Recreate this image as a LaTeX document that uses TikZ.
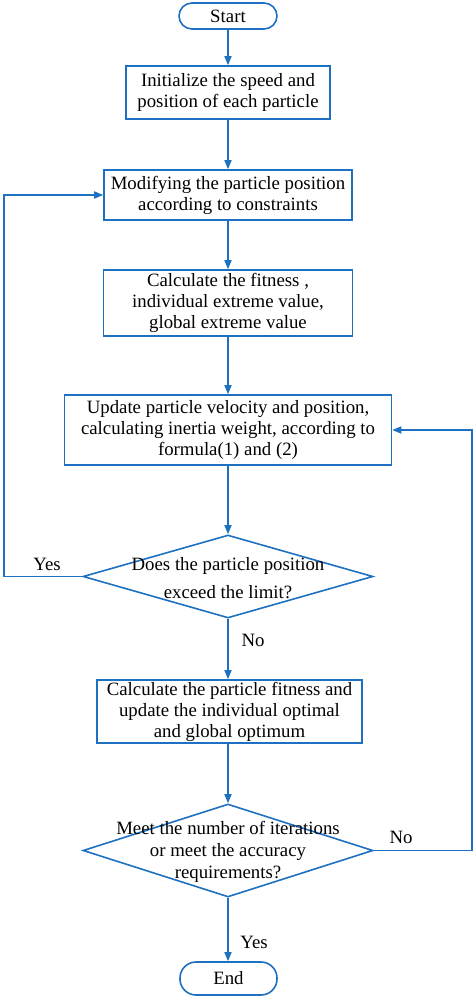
\documentclass[tikz,border=0pt]{standalone}
\usepackage{fontspec}
\setmainfont{Liberation Serif}
\usetikzlibrary{shapes.geometric,arrows.meta}
\definecolor{fc}{RGB}{30,112,192}
\begin{document}
\begin{tikzpicture}[x=1pt,y=-1pt,
  every node/.style={font=\fontsize{18.8}{21}\selectfont},
  box/.style={draw=fc,line width=1.6pt,inner sep=0pt,align=center},
  term/.style={box,rounded corners=13pt},
  dia/.style={draw=fc,line width=1.6pt,diamond,inner sep=0pt},
  dtext/.style={align=center,inner sep=0pt},
  lab/.style={inner sep=0pt},
  arr/.style={draw=fc,line width=1.6pt,-{Triangle[length=9pt,width=7pt]}},
  ln/.style={draw=fc,line width=1.6pt}]
\useasboundingbox (0,0) rectangle (474,998);
\node[term,minimum width=98pt,minimum height=26pt] (start) at (228,16) {Start};
\node[box,minimum width=204pt,minimum height=53pt] (init) at (228,92.5) {Initialize the speed and\\position of each particle};
\node[box,minimum width=248pt,minimum height=50pt] (mod) at (228,195) {Modifying the particle position\\according to constraints};
\node[box,minimum width=249pt,minimum height=66pt] (calc) at (228,303) {Calculate the fitness ,\\ individual extreme value,\\global extreme value};
\node[box,minimum width=327pt,minimum height=70pt] (upd) at (228,430) {Update particle velocity and position,\\calculating inertia weight, according to\\formula(1) and (2)};
\node[dia,minimum width=290pt,minimum height=83pt] (d1) at (228,576.5) {};
\node[dtext,font=\fontsize{18.8}{28}\selectfont] (d1t) at (228,578) {Does the particle position\\exceed the limit?};
\node[box,minimum width=265pt,minimum height=63pt] (calc2) at (229.5,711.5) {Calculate the particle fitness and\\update the individual optimal\\and global optimum};
\node[dia,minimum width=290pt,minimum height=93pt] (d2) at (228,850.5) {};
\node[dtext,font=\fontsize{18.8}{22}\selectfont] (d2t) at (228,852) {Meet the number of iterations\\or meet the accuracy\\requirements?};
\node[term,minimum width=97pt,minimum height=33pt,rounded corners=16pt] (end) at (228.5,978.5) {End};
\coordinate (lc) at (4,576.5);
\coordinate (lt) at (4,195);
\coordinate (rc) at (472,850.5);
\coordinate (rt) at (472,430);
\draw[arr] (start) -- (init);
\draw[arr] (init) -- (mod);
\draw[arr] (mod) -- (calc);
\draw[arr] (calc) -- (upd);
\draw[arr] (upd.south -| d1.north) -- (d1.north);
\draw[arr] (d1.south) -- (d1.south |- calc2.north);
\draw[arr] (calc2.south -| d2.north) -- (d2.north);
\draw[arr] (d2.south) -- (d2.south |- end.north);
\draw[arr] (d1.west) -- (lc) -- (lt) -- (mod.west);
\draw[arr] (d2.east) -- (rc) -- (rt) -- (upd.east);
\node[lab] (yes1) at (47,564) {Yes};
\node[lab] (no1) at (253,640) {No};
\node[lab] (no2) at (401,837) {No};
\node[lab] (yes2) at (254,942) {Yes};
\end{tikzpicture}
\end{document}
